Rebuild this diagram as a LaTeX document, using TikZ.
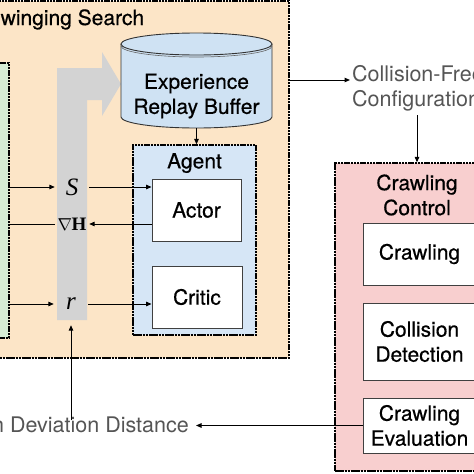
\documentclass[tikz,border=0pt]{standalone}
\usepackage{fontspec}
\setmainfont[FakeBold=0.5]{TeX Gyre Heros}
\newfontfamily\plainfont{TeX Gyre Heros}
\newfontfamily\tms{Liberation Serif}
\usetikzlibrary{arrows.meta}
\definecolor{orangebg}{RGB}{252,229,199}
\definecolor{greenbg}{RGB}{214,236,212}
\definecolor{graybar}{RGB}{211,211,211}
\definecolor{cylblue}{RGB}{207,226,243}
\definecolor{agentblue}{RGB}{214,230,246}
\definecolor{pinkbg}{RGB}{248,207,207}
\definecolor{txtgray}{RGB}{85,85,85}
\tikzset{
  outerbox/.style={draw=black, line width=1.3pt, dash pattern=on 2.5pt off 0.7pt, inner sep=0pt},
  innerbox/.style={draw=black!75, line width=0.9pt, fill=white, inner sep=0pt, align=center,
    font=\fontsize{21}{25}\selectfont},
  arr/.style={-{Triangle[length=5.5pt,width=4.5pt]}, line width=1pt},
  lbl/.style={font=\fontsize{21}{25}\selectfont, align=center, inner sep=0pt},
  graylbl/.style={font=\plainfont\fontsize{21.5}{25}\selectfont, text=txtgray, inner sep=0pt},
  mathlbl/.style={inner sep=0pt, minimum width=34pt}
}
\begin{document}
\begin{tikzpicture}[x=1pt,y=-1pt]
\useasboundingbox (0,0) rectangle (474,474);
\clip (0,0) rectangle (474,474);
\fill[white] (0,0) rectangle (474,474);

% Swinging Search box
\node[outerbox, fill=orangebg, minimum width=299pt, minimum height=357pt] (orange) at (139.5,179.5) {};
\node[lbl, anchor=base west] (sstitle) at (-13.5,25) {Swinging Search};

% green box
\node[outerbox, fill=greenbg, minimum width=29pt, minimum height=275pt] (green) at (-5.5,200.5) {};

% gray arrow
\fill[graybar] (57,320) -- (57,68) -- (102,68) -- (102,52) -- (121,84) -- (102,116) -- (102,100) -- (87,100) -- (87,320) -- cycle;

% cylinder
\fill[cylblue] (121,44) -- (121,117) arc[start angle=180, end angle=0, x radius=75.5, y radius=11] -- (272,44) arc[start angle=0, end angle=-180, x radius=75.5, y radius=11] -- cycle;
\draw[black!80, line width=0.9pt] (121,44) -- (121,117) arc[start angle=180, end angle=0, x radius=75.5, y radius=11] -- (272,44);
\draw[black!80, line width=0.9pt, fill=cylblue] (196.5,44) ellipse[x radius=75.5, y radius=11];
\draw[black!60, line width=0.6pt] (121,46) arc[start angle=180, end angle=0, x radius=75.5, y radius=11];
\coordinate (cylbot) at (196.5,128);
\node[lbl] (erb) at (196.5,96) {Experience\\Replay Buffer};

% Agent
\node[outerbox, fill=agentblue, minimum width=123pt, minimum height=190pt] (agent) at (194.5,240) {};
\node[lbl] (agenttitle) at (194.5,163) {Agent};
\node[innerbox, minimum width=89pt, minimum height=62pt] (actor) at (196.5,210) {Actor};
\node[innerbox, minimum width=90pt, minimum height=62pt] (critic) at (197,297) {Critic};
\draw[arr] (cylbot) -- (cylbot |- agent.north);

% labels in gray column
\node[mathlbl, minimum height=30pt, font=\fontsize{25}{25}\selectfont] (S) at (72,187) {\tms\itshape S};
\node[mathlbl, minimum height=24pt, font=\fontsize{19}{19}\selectfont] (grad) at (72,224) {$\nabla$\kern-0.5pt{\tms\bfseries H}};
\node[mathlbl, minimum height=42pt, font=\fontsize{25}{25}\selectfont] (r) at (71,304) {\tms\itshape r};

\draw[arr] (green.east |- S) -- (S.west);
\draw[line width=1pt] (grad.west) -- (green.east |- grad);
\draw[arr] (green.east |- r) -- (r.west);
\draw[arr] (S.east) -- (actor.west |- S);
\draw[arr] (actor.west |- grad) -- (grad.east);
\draw[arr] (r.east) -- (critic.west |- r);

% Collision-free configuration
\node[graylbl, anchor=west, align=left] (cf) at (352,88) {Collision-Free\\Configuration};
\coordinate (cfin) at (350,80);
\draw[arr] (orange.east |- cfin) -- (cfin);

% Crawling Control
\node[outerbox, fill=pinkbg, minimum width=175pt, minimum height=308pt] (cc) at (422.5,317) {};
\node[lbl] (cctitle) at (417,195) {Crawling\\Control};
\coordinate (cfout) at (417,115);
\draw[arr] (cfout) -- (cfout |- cc.north);
\node[innerbox, minimum width=113pt, minimum height=62pt] (crawl) at (419.5,254) {Crawling};
\node[innerbox, minimum width=113pt, minimum height=77pt] (coll) at (419.5,341.5) {Collision\\Detection};
\node[innerbox, minimum width=113pt, minimum height=55pt] (eval) at (419.5,425.5) {Crawling\\Evaluation};

% deviation distance
\node[graylbl, anchor=east] (dev) at (189,427) {Configuration Deviation Distance};
\draw[arr, shorten >=7pt] (eval.west) -- (dev.east |- eval.west);
\draw[arr, shorten <=-4pt] (dev.north -| r) -- (r.south);
\end{tikzpicture}
\end{document}
